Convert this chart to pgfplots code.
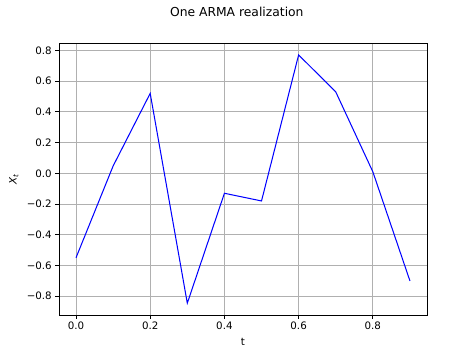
\documentclass[border=0pt]{standalone}
\usepackage{fontspec}
\setmainfont{DejaVu Sans}
\usepackage{pgfplots}
\pgfplotsset{compat=1.18}
\definecolor{gridgray}{HTML}{B0B0B0}
\begin{document}
\begin{tikzpicture}
\begin{axis}[
  name=ax,
  at={(0,0)}, anchor=south west,
  scale only axis,
  width=358pt, height=264.7pt,
  xmin=-0.0458, xmax=0.9458,
  ymin=-0.922, ymax=0.848,
  xtick={0,0.2,0.4,0.6,0.8},
  xticklabels={0.0,0.2,0.4,0.6,0.8},
  ytick={-0.8,-0.6,-0.4,-0.2,0,0.2,0.4,0.6,0.8},
  yticklabels={−0.8,−0.6,−0.4,−0.2,0.0,0.2,0.4,0.6,0.8},
  xtick pos=lower, ytick pos=left,
  tick align=outside,
  major tick length=3.5pt,
  tick style={black, line width=0.8pt},
  axis line style={black, line width=0.8pt},
  grid=major,
  major grid style={gridgray, line width=0.8pt},
  ticklabel style={font=\fontsize{10}{12}\selectfont},
  xlabel={t},
  ylabel={\textit{X}\textsubscript{\textit{t}}},
  xlabel style={font=\fontsize{10}{12}\selectfont, at={(axis description cs:0.5,-0.1103)}, anchor=base},
  ylabel style={font=\fontsize{10}{12}\selectfont, at={(axis description cs:-0.1229,0.5)}, anchor=center},
]
\addplot[blue, line width=1pt] coordinates {
  (0.0,-0.55) (0.1,0.047) (0.2,0.52) (0.3,-0.845) (0.4,-0.13)
  (0.5,-0.18) (0.6,0.77) (0.7,0.53) (0.8,0.01) (0.9,-0.70)
};
\end{axis}
\node[anchor=north, inner sep=0pt, font=\fontsize{12}{14}\selectfont] at ([shift={(173pt,299.7pt)}]ax.south west) {One ARMA realization};
\pgfresetboundingbox
\useasboundingbox ([shift={(-57.4pt,-38.9pt)}]ax.south west) rectangle ++(461.2pt,345.4pt);
\end{tikzpicture}
\end{document}
